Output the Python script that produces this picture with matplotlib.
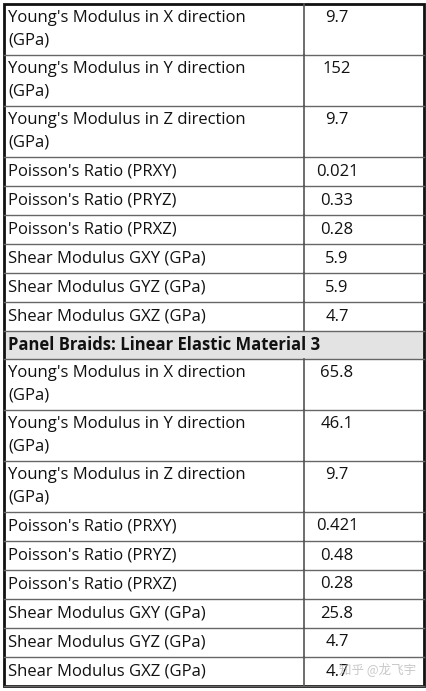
import matplotlib.pyplot as plt
from matplotlib.patches import Rectangle

# Table content
labels_a = ["Young's Modulus in X direction\n(GPa)", "Young's Modulus in Y direction\n(GPa)",
            "Young's Modulus in Z direction\n(GPa)", "Poisson's Ratio (PRXY)", "Poisson's Ratio (PRYZ)",
            "Poisson's Ratio (PRXZ)", "Shear Modulus GXY (GPa)", "Shear Modulus GYZ (GPa)",
            "Shear Modulus GXZ (GPa)"]
values_a = ["9.7", "152", "9.7", "0.021", "0.33", "0.28", "5.9", "5.9", "4.7"]
header_b = "Panel Braids: Linear Elastic Material 3"
labels_b = labels_a
values_b = ["65.8", "46.1", "9.7", "0.421", "0.48", "0.28", "25.8", "4.7", "4.7"]

W, H = 427, 691
fig = plt.figure(figsize=(W / 100, H / 100), dpi=100)
ax = fig.add_axes([0, 0, 1, 1])
ax.set_xlim(0, W)
ax.set_ylim(H, 0)
ax.axis('off')

left, right, div = 4, 424, 304
tall, short = 51, 29
font = 'Open Sans'
fs = 12

rows = []
for lab, val in zip(labels_a, values_a):
    rows.append((lab, val, tall if '\n' in lab else short, False))
rows.append((header_b, None, 28, True))
for lab, val in zip(labels_b, values_b):
    rows.append((lab, val, tall if '\n' in lab else short, False))

y = 4
for lab, val, h, is_header in rows:
    if is_header:
        ax.add_patch(Rectangle((left, y), right - left, h, facecolor='#e3e3e3', edgecolor='none'))
        ax.text(left + 4, y + h / 2, lab, fontsize=fs, fontweight='bold', family=font,
                va='center', ha='left', color='#111111')
    else:
        if '\n' in lab:
            l1, l2 = lab.split('\n')
            ax.text(left + 4, y + 14, l1, fontsize=fs, family=font, va='center', color='#111111')
            ax.text(left + 4, y + 36, l2, fontsize=fs, family=font, va='center', color='#111111')
            ax.text(337, y + 14, val, fontsize=fs, family=font, va='center', ha='center', color='#111111')
        else:
            ax.text(left + 4, y + h / 2, lab, fontsize=fs, family=font, va='center', color='#111111')
            ax.text(337, y + h / 2, val, fontsize=fs, family=font, va='center', ha='center', color='#111111')
        ax.plot([div, div], [y, y + h], color='#555555', lw=1.2)
    y2 = y + h
    ax.plot([left, right], [y2, y2], color='#666666', lw=1.0)
    y = y2

# outer border
ax.add_patch(Rectangle((left, 4), right - left, y - 4, facecolor='none', edgecolor='#111111', lw=2))

# watermark
ax.text(378, 670, "知乎 @龙飞宇", fontsize=9, family=['Noto Sans CJK SC', 'DejaVu Sans'],
        va='center', ha='center', color='#bbbbbb', alpha=0.8)

fig.savefig('out.png', dpi=100)
